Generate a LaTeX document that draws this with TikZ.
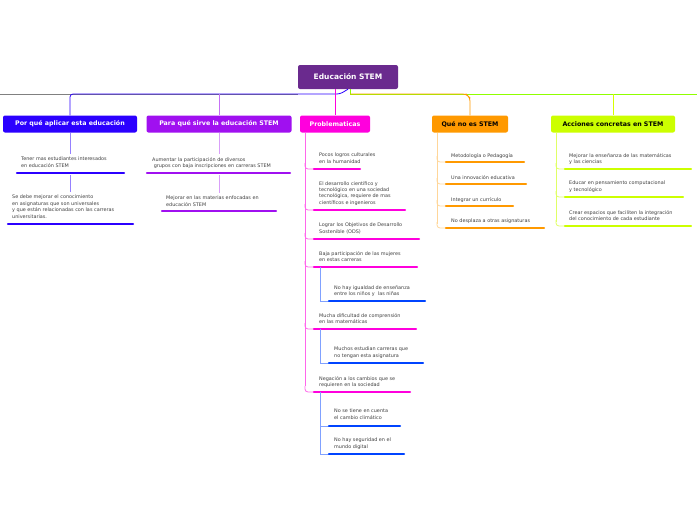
\documentclass[tikz,border=0pt]{standalone}
\usepackage{fontspec}
\setmainfont{DejaVu Sans}
\begin{document}
\begin{tikzpicture}[x=1pt,y=-1pt,
  hdr/.style={rounded corners=2pt,text=white,font=\fontsize{6.3}{7}\selectfont\bfseries,minimum height=17pt,inner xsep=5pt},
  txt/.style={anchor=north west,align=left,inner sep=0pt,font=\fontsize{4.9}{6.4}\selectfont,text=black!75},
  bar/.style={line width=2.2pt,line cap=round},
  conn/.style={line width=0.8pt}]
\useasboundingbox (0,0) rectangle (697,520);
\definecolor{cRoot}{HTML}{6A2A8E}
\definecolor{cBlue}{HTML}{2B00FF}
\definecolor{cPur}{HTML}{A010F0}
\definecolor{cMag}{HTML}{FF00DD}
\definecolor{cOra}{HTML}{FF9900}
\definecolor{cGre}{HTML}{CCFF00}
\definecolor{cSub}{HTML}{0044FF}
% root
\node[hdr,fill=cRoot,minimum width=100pt,minimum height=24pt,font=\fontsize{7.5}{8}\selectfont\bfseries] (root) at (348,77) {Educación STEM};
\draw[conn,gray] (0,94) -- (298,94);
\draw[conn,cGre!70!green] (root.south) ++(2,0) -- (350,94) -- (697,94);
% headers
\node[hdr,fill=cBlue,minimum width=134pt] (h1) at (70,124) {Por qué aplicar esta educación};
\node[hdr,fill=cPur,minimum width=145pt] (h2) at (219,124) {Para qué sirve la educación STEM};
\node[hdr,fill=cMag,minimum width=70pt] (h3) at (335,124) {Problematicas};
\node[hdr,fill=cOra,minimum width=76pt,text=black] (h4) at (470,124) {Qué no es STEM};
\node[hdr,fill=cGre,minimum width=124pt,text=black] (h5) at (613,124) {Acciones concretas en STEM};
\draw[conn,cBlue,rounded corners=3pt] (root.south) -- (340,94) -- (70,94) -- (h1.north);
\draw[conn,cPur!60,rounded corners=3pt] (219,94) -- (h2.north);
\draw[conn,cMag] (335,89) -- (h3.north);
\draw[conn,cOra,rounded corners=3pt] (350,94) -- (466,94) -- (470,98) -- (h4.north);
\draw[conn,cGre!80!yellow,rounded corners=3pt] (613,94) -- (h5.north);
% blue children
\node[txt] (b1) at (21,157) {Tener mas estudiantes interesados\\en educación STEM};
\node[txt] (b2) at (12,195) {Se debe mejorar el conocimiento\\en asignaturas que son universales\\y que están relacionadas con las carreras\\universitarias.};
\draw[bar,cBlue] (17,173) -- (124,173);
\draw[bar,cBlue] (8,224) -- (133,224);
\draw[conn,cBlue!50] (h1.south) -- (70,154) (70,175) -- (70,192);
% purple children
\node[txt] (p1) at (152,157) {Aumentar la participación de diversos\\\ grupos con baja inscripciones en carreras STEM};
\node[txt] (p2) at (166,196) {Mejorar en las materias enfocadas en\\educación STEM};
\draw[bar,cPur] (147,173) -- (290,173);
\draw[bar,cPur] (162,211) -- (276,211);
\draw[conn,cPur!40] (h2.south) -- (219,154) (219,175) -- (219,193);
% magenta
\draw[conn,cMag!60] (305,133) -- (305,386);
\foreach \y/\e in {169/360,210/405,239/419,267/417,329/416,392/410}{
  \draw[conn,cMag!60,rounded corners=3pt] (305,\y-6) -- (305,\y) -- (314,\y);
  \draw[bar,cMag] (314,\y) -- (\e,\y);}
\node[txt] (m1) at (319,153) {Pocos logros culturales\\en la humanidad};
\node[txt] (m2) at (319,181) {El desarrollo científico y\\tecnológico en una sociedad\\tecnológica, requiere de mas\\científicos e ingenieros};
\node[txt] (m3) at (319,223) {Lograr los Objetivos de Desarrollo\\Sostenible (ODS)};
\node[txt] (m4) at (319,251) {Baja participación de las mujeres\\en estas carreras};
\node[txt] (m5) at (319,313) {Mucha dificultad de comprensión\\en las matemáticas};
\node[txt] (m6) at (319,376) {Negación a los cambios que se\\requieren en la sociedad};
\node[txt] (s1) at (334,285) {No hay igualdad de enseñanza\\entre los niños y\ \ las niñas};
\node[txt] (s2) at (334,347) {Muchos estudian carreras que\\no tengan esta asignatura};
\node[txt] (s3) at (334,409) {No se tiene en cuenta\\el cambio climático};
\node[txt] (s4) at (334,438) {No hay seguridad en el\\mundo digital};
\draw[conn,cSub!50] (320,267) -- (320,301) -- (329,301);
\draw[conn,cSub!50] (320,329) -- (320,363) -- (329,363);
\draw[conn,cSub!50] (320,392) -- (320,454) -- (329,454) (320,426) -- (329,426);
\draw[bar,cSub] (329,301) -- (425,301);
\draw[bar,cSub] (329,363) -- (423,363);
\draw[bar,cSub] (329,426) -- (400,426);
\draw[bar,cSub] (329,454) -- (404,454);
% orange
\draw[conn,cOra!40] (437,133) -- (437,224);
\foreach \y/\e in {162/524,184/526,206/513,228/544}{
  \draw[conn,cOra!40,rounded corners=3pt] (437,\y-6) -- (437,\y) -- (446,\y);
  \draw[bar,cOra] (446,\y) -- (\e,\y);}
\node[txt] (o1) at (451,153) {Metodología o Pedagogía};
\node[txt] (o2) at (451,175) {Una innovación educativa};
\node[txt] (o3) at (451,197) {Integrar un currículo};
\node[txt] (o4) at (451,219) {No desplaza a otras asignaturas};
% green
\draw[conn,cGre!60] (556,133) -- (556,222);
\foreach \y/\e in {169/691,197/683,226/691}{
  \draw[conn,cGre!60,rounded corners=3pt] (556,\y-6) -- (556,\y) -- (565,\y);
  \draw[bar,cGre] (565,\y) -- (\e,\y);}
\node[txt] (g1) at (569,153) {Mejorar la enseñanza de las matemáticas\\y las ciencias};
\node[txt] (g2) at (569,181) {Educar en pensamiento computacional\\y tecnológico};
\node[txt] (g3) at (569,210) {Crear espacios que faciliten\ la integración\\del conocimiento de cada estudiante};
\end{tikzpicture}
\end{document}
